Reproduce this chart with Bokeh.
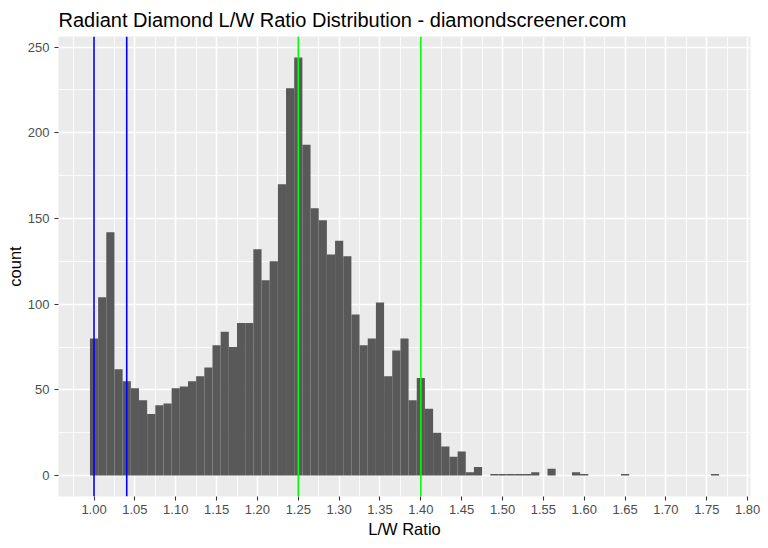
from bokeh.plotting import figure
from bokeh.models import Range1d, FixedTicker, Span, PrintfTickFormatter, ColumnDataSource
from bokeh.embed import file_html
from bokeh.resources import INLINE

title_text = "Radiant Diamond L/W Ratio Distribution - diamondscreener.com"
x_label = "L/W Ratio"
y_label = "count"

lw_ratio = [1.00, 1.01, 1.02, 1.03, 1.04, 1.05, 1.06, 1.07, 1.08, 1.09,
            1.10, 1.11, 1.12, 1.13, 1.14, 1.15, 1.16, 1.17, 1.18, 1.19,
            1.20, 1.21, 1.22, 1.23, 1.24, 1.25, 1.26, 1.27, 1.28, 1.29,
            1.30, 1.31, 1.32, 1.33, 1.34, 1.35, 1.36, 1.37, 1.38, 1.39,
            1.40, 1.41, 1.42, 1.43, 1.44, 1.45, 1.46, 1.47, 1.48, 1.49,
            1.50, 1.51, 1.52, 1.53, 1.54, 1.55, 1.56, 1.57, 1.58, 1.59,
            1.60, 1.61, 1.62, 1.63, 1.64, 1.65, 1.66, 1.67, 1.68, 1.69,
            1.70, 1.71, 1.72, 1.73, 1.74, 1.75, 1.76]
counts = [80, 104, 142, 62, 55, 51, 44, 36, 41, 42,
          51, 52, 55, 58, 63, 76, 84, 75, 89, 89,
          132, 114, 125, 170, 226, 244, 193, 156, 149, 129,
          137, 128, 94, 76, 80, 101, 58, 73, 80, 44,
          57, 39, 25, 17, 11, 14, 2, 5, 0, 1,
          1, 1, 1, 1, 2, 0, 4, 0, 0, 2,
          1, 0, 0, 0, 0, 1, 0, 0, 0, 0,
          0, 0, 0, 0, 0, 0, 1]
bin_width = 0.01

blue_lines = [1.00, 1.04]
green_lines = [1.25, 1.40]

x_ticks = [1.00, 1.05, 1.10, 1.15, 1.20, 1.25, 1.30, 1.35, 1.40,
           1.45, 1.50, 1.55, 1.60, 1.65, 1.70, 1.75, 1.80]
y_ticks = [0, 50, 100, 150, 200, 250]

# ggplot-like expansion of the ranges
x_lo = min(lw_ratio) - bin_width / 2
x_hi = max(lw_ratio) + bin_width / 2
x_pad = 0.05 * (x_hi - x_lo)
y_hi = max(counts)
y_pad = 0.05 * y_hi

x_minor = [x_ticks[0] - 0.025] + [(a + b) / 2 for a, b in zip(x_ticks[:-1], x_ticks[1:])]
y_minor = [(a + b) / 2 for a, b in zip(y_ticks[:-1], y_ticks[1:])]

FONT = "Liberation Sans"

p = figure(width=760, height=540, output_backend="svg", toolbar_location=None,
           x_range=Range1d(x_lo - x_pad, x_hi + x_pad),
           y_range=Range1d(-y_pad, y_hi + y_pad),
           min_border_left=58, min_border_right=10, min_border_top=36, min_border_bottom=43)

p.background_fill_color = "#EBEBEB"
p.border_fill_color = "white"
p.outline_line_color = None

src = ColumnDataSource(dict(x=lw_ratio, top=counts))
p.vbar(x="x", top="top", bottom=0, width=bin_width, source=src,
       fill_color="#595959", line_color=None)

for loc in blue_lines:
    p.add_layout(Span(location=loc, dimension="height", line_color="#0000FF", line_width=1.6))
for loc in green_lines:
    p.add_layout(Span(location=loc, dimension="height", line_color="#00FF00", line_width=1.6))

p.xaxis.ticker = FixedTicker(ticks=x_ticks, minor_ticks=x_minor)
p.yaxis.ticker = FixedTicker(ticks=y_ticks, minor_ticks=y_minor)
p.xaxis.formatter = PrintfTickFormatter(format="%.2f")

for g in (p.xgrid, p.ygrid):
    g.grid_line_color = "white"
    g.grid_line_width = 1.6
    g.minor_grid_line_color = "white"
    g.minor_grid_line_width = 0.8

for ax in (p.xaxis, p.yaxis):
    ax.axis_line_color = None
    ax.major_tick_line_color = "#333333"
    ax.major_tick_line_width = 1.1
    ax.major_tick_out = 4
    ax.major_tick_in = 0
    ax.minor_tick_out = 0
    ax.minor_tick_in = 0
    ax.major_label_text_font = FONT
    ax.major_label_text_font_size = "13px"
    ax.major_label_text_color = "#4D4D4D"
    ax.axis_label_text_font = FONT
    ax.axis_label_text_font_size = "16.5px"
    ax.axis_label_text_font_style = "normal"
    ax.axis_label_text_color = "black"

p.xaxis.major_label_standoff = 4
p.xaxis.axis_label_standoff = 3
p.yaxis.major_label_standoff = 5
p.yaxis.axis_label_standoff = 1

p.xaxis.axis_label = x_label
p.yaxis.axis_label = y_label

p.title.text = title_text
p.title.text_font = FONT
p.title.text_font_size = "20px"
p.title.text_font_style = "normal"
p.title.text_color = "black"
p.title.align = "left"
p.title.standoff = 12
p.title.offset = 0

open("out.html", "w").write(file_html(p, INLINE))
